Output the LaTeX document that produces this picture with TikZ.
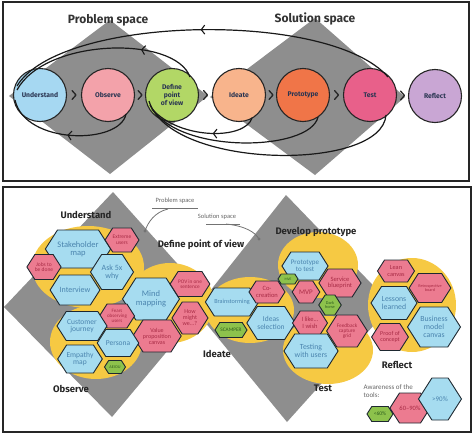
\documentclass[tikz,border=0pt]{standalone}
\usepackage{fontspec}
\setmainfont{Fira Sans}
\newfontfamily\hexfont{Carlito}
\usetikzlibrary{shapes.symbols,arrows.meta,decorations.markings,calc}
\definecolor{dgray}{HTML}{8E8E8E}
\definecolor{yel}{HTML}{F6C943}
\definecolor{hexblue}{HTML}{A6DCF0}
\definecolor{hexpink}{HTML}{EC7B90}
\definecolor{hexgreen}{HTML}{8DC24C}
\definecolor{hexline}{HTML}{1E2830}
\definecolor{tblue}{HTML}{4A84AE}
\definecolor{tpink}{HTML}{A82C46}
\definecolor{tgreen}{HTML}{2E5E1E}
\definecolor{navy}{HTML}{2A3552}
\definecolor{cU}{HTML}{A6D8F2}
\definecolor{cO}{HTML}{F3A2AA}
\definecolor{cD}{HTML}{B2D766}
\definecolor{cI}{HTML}{F8B48C}
\definecolor{cP}{HTML}{F07548}
\definecolor{cT}{HTML}{E8608A}
\definecolor{cR}{HTML}{C9A6D4}
\begin{document}
\begin{tikzpicture}[x=1pt,y=-1pt,
  frame/.style={draw=black!85, line width=1.8pt},
  diam/.style={fill=dgray, draw=none},
  blob/.style={fill=yel, draw=none},
  circ/.style={circle, draw=black!85, line width=1.1pt, minimum size=53pt, inner sep=0pt,
     font=\bfseries\fontsize{6.8}{7.8}\selectfont, text=navy, align=center},
  chev/.style={draw=black!85, line width=1.3pt, line cap=round, line join=round},
  loop/.style={draw=black!90, line width=1.2pt},
  midarrow/.style={postaction={decorate}, decoration={markings,
     mark=at position #1 with {\arrow{Straight Barb[length=3.5pt,width=9pt,line width=1.1pt]}}}},
  toplbl/.style={font=\bfseries\fontsize{12}{12}\selectfont, text=black!80},
  headlbl/.style={font=\bfseries\fontsize{9.5}{10}\selectfont, text=black!85},
  smalllbl/.style={font=\hexfont\fontsize{6.5}{7}\selectfont, text=black!60},
  ptr/.style={draw=black!55, line width=0.8pt},
  hexbase/.style={shape=signal, signal to=east and west, signal pointer angle=115,
     draw=hexline, line width=0.9pt, inner sep=0pt, align=center},
  hb/.style={hexbase, fill=hexblue, text=tblue},
  hp/.style={hexbase, fill=hexpink, text=tpink},
  hg/.style={hexbase, fill=hexgreen, text=tgreen},
  sz/.style 2 args={minimum width=#1pt, minimum height=#2pt},
  fs/.style={font=\hexfont\fontsize{#1}{#1}\selectfont}
]
\useasboundingbox (0,0) rectangle (474,434);

% ================= TOP PANEL =================
\draw[frame] (3,2) rectangle (469,181);
\fill[diam] (110,20) -- (208,96) -- (110,174) -- (9,96) -- cycle;
\fill[diam] (315,18) -- (405,97) -- (315,175) -- (210,97) -- cycle;

\node[toplbl] (tps) at (108,20) {Problem space};
\node[toplbl] (tss) at (315,19) {Solution space};

\node[circ, fill=cU] (u) at (40,95) {Understand};
\node[circ, fill=cO] (o) at (108,95) {Observe};
\node[circ, fill=cD] (d) at (172,95) {Define\\point\\of view};
\node[circ, fill=cI] (i) at (239,95) {Ideate};
\node[circ, fill=cP] (p) at (303,95) {Prototype};
\node[circ, fill=cT] (t) at (370,95) {Test};
\node[circ, fill=cR] (r) at (435,96) {Reflect};

\foreach \a/\b/\n in {u/o/1, o/d/2, d/i/3, i/p/4, p/t/5, t/r/6}{
  \coordinate (c\n) at ($(\a)!0.5!(\b)$);
  \draw[chev] (c\n) ++(-2,-4.5) -- ++(4,4.5) -- ++(-4,4.5);
}

% loops
\coordinate (tA) at (388,77);
\coordinate (uA) at (17,86);
\draw[loop, midarrow=0.5] (tA) .. controls (330,10) and (60,15) .. (uA);
\coordinate (dA) at (190,77);
\coordinate (uB) at (17,90);
\draw[loop, midarrow=0.3] (dA) .. controls (175,35) and (45,38) .. (uB);
\coordinate (oA) at (126,114);
\coordinate (uC) at (15,100);
\draw[loop, midarrow=0.5] (oA) .. controls (120,145) and (25,145) .. (uC);
\coordinate (iA) at (252,118);
\coordinate (dB) at (152,109);
\draw[loop, midarrow=0.4] (iA) .. controls (245,140) and (180,140) .. (dB);
\coordinate (pA) at (318,117);
\coordinate (dC) at (150,105);
\draw[loop] (pA) .. controls (310,152) and (175,155) .. (dC);
\coordinate (tB) at (386,115);
\coordinate (dD) at (149,101);
\draw[loop] (tB) .. controls (382,172) and (170,170) .. (dD);

% ================= BOTTOM PANEL =================
\draw[frame] (3,187) rectangle (471,432);
\fill[diam] (113,192) -- (210,300) -- (112,417) -- (4,307) -- cycle;
\fill[diam] (286,195) -- (392,305) -- (287,422) -- (195,310) -- cycle;

% yellow blobs
\fill[blob] (88,267) ellipse [x radius=56pt, y radius=41pt];
\fill[blob] (170,303) ellipse [x radius=44pt, y radius=40pt];
\fill[blob] (96,342) ellipse [x radius=46pt, y radius=37pt];
\fill[blob] (250,310) ellipse [x radius=44pt, y radius=33pt];
\fill[blob] (318,265) ellipse [x radius=40pt, y radius=33pt];
\fill[blob] (328,350) ellipse [x radius=45pt, y radius=34pt];
\fill[blob] (412,305) ellipse [x radius=44pt, y radius=47pt];

% Understand group
\node[hb, sz={50}{38}, fs=8.5] (stake) at (78,249) {Stakeholder\\map};
\node[hp, sz={31}{24}, fs=5.5] (extreme) at (122,240) {Extreme\\users};
\node[hp, sz={29}{25}, fs=5.5] (jobs) at (44,267) {Jobs to\\be done};
\node[hb, sz={34}{35}, fs=8] (ask) at (112,272) {Ask 5x\\why};
\node[hb, sz={44}{30}, fs=8] (interview) at (75,290) {Interview};
% Define group
\node[hb, sz={52}{42}, fs=8.5] (mind) at (151,299) {Mind\\mapping};
\node[hp, sz={36}{25}, fs=5.3] (pov) at (190,284) {POV in one\\sentence};
\node[hp, sz={36}{32}, fs=6] (hmw) at (190,318) {How\\might\\we...?};
\node[hp, sz={40}{32}, fs=6] (vpc) at (157,336) {Value\\proposition\\canvas};
% Observe group
\node[hp, sz={31}{24}, fs=5] (fears) at (117,316) {Fears\\observing\\users};
\node[hb, sz={50}{29}, fs=7.5] (cj) at (82,326) {Customer\\journey};
\node[hb, sz={40}{27}, fs=7.5] (persona) at (118,343) {Persona};
\node[hb, sz={44}{28}, fs=7.5] (emp) at (80,359) {Empathy\\map};
\node[hg, sz={21}{13}, fs=4.2] (aeiou) at (115,367) {AEIOU};
% Ideate group
\node[hb, sz={45}{28}, fs=6.2] (brain) at (232,302) {Brainstorming};
\node[hp, sz={36}{22}, fs=6.5] (cocre) at (267,292) {Co-\\creation};
\node[hb, sz={48}{33}, fs=7.5] (ideas) at (271,323) {Ideas\\selection};
\node[hg, sz={32}{15}, fs=5.3] (scamper) at (231,330) {SCAMPER};
% Prototype / Test group
\node[hb, sz={45}{28}, fs=7] (ptt) at (305,266) {Prototype\\to test};
\node[hg, sz={20}{10}, fs=3.6] (mve) at (288,279) {MVE};
\node[hp, sz={36}{28}, fs=6.5] (serv) at (340,283) {Service\\blueprint};
\node[hp, sz={25}{22}, fs=7] (mvp) at (306,292) {MVP};
\node[hg, sz={22}{20}, fs=4.3] (dark) at (330,305) {Dark\\horse};
\node[hp, sz={35}{24}, fs=6.5] (ilike) at (310,323) {I like...\\I wish};
\node[hp, sz={35}{32}, fs=5.3] (fcg) at (347,331) {Feedback\\capture\\grid};
\node[hb, sz={53}{34}, fs=7.8] (twu) at (311,351) {Testing\\with users};
% Reflect group
\node[hp, sz={37}{22}, fs=6.3] (lean) at (396,271) {Lean\\canvas};
\node[hp, sz={36}{29}, fs=4.2] (retro) at (430,288) {Retrospective\\board};
\node[hb, sz={46}{33}, fs=7.8] (lessons) at (394,303) {Lessons\\learned};
\node[hb, sz={53}{40}, fs=7.8] (bmc) at (434,327) {Business\\model\\canvas};
\node[hp, sz={35}{27}, fs=6] (poc) at (390,337) {Proof of\\concept};

% headings
\node[headlbl] (hU) at (86,215) {Understand};
\node[headlbl] (hD) at (201,245) {Define point of view};
\node[headlbl] (hP) at (316,232) {Develop prototype};
\node[headlbl] (hI) at (217,354) {Ideate};
\node[headlbl] (hO) at (71,389) {Observe};
\node[headlbl] (hT) at (323,388) {Test};
\node[headlbl] (hR) at (397,365) {Reflect};

% pointers
\node[smalllbl] (ps) at (175,201) {Problem space};
\node[smalllbl] (ss) at (217,217) {Solution space};
\draw[ptr] ([yshift=-1pt]ps.south west) -- ([yshift=-1pt]ps.south east);
\draw[ptr] ([xshift=12pt,yshift=-1pt]ss.south west) -- ([yshift=-1pt]ss.south east);
\coordinate (pdot) at (145,231);
\coordinate (sdot) at (259,239);
\draw[ptr] (168,209) .. controls (155,212) and (148,222) .. (pdot);
\draw[ptr] (226,224) .. controls (245,226) and (255,232) .. (sdot);
\fill[black!55] (pdot) circle (1.6pt);
\fill[black!55] (sdot) circle (1.6pt);

% legend
\node[smalllbl, align=left, anchor=west, font=\hexfont\fontsize{7}{8}\selectfont] (aw) at (360,391) {Awareness of the\\tools:};
\node[hg, sz={26}{15}, fs=5.5] (l60) at (380,414) {<60\%};
\node[hp, sz={36}{30}, fs=6.5] (l6090) at (410,408) {60–90\%};
\node[hb, sz={43}{42}, fs=7] (l90) at (440,399) {>90\%};
\end{tikzpicture}
\end{document}
